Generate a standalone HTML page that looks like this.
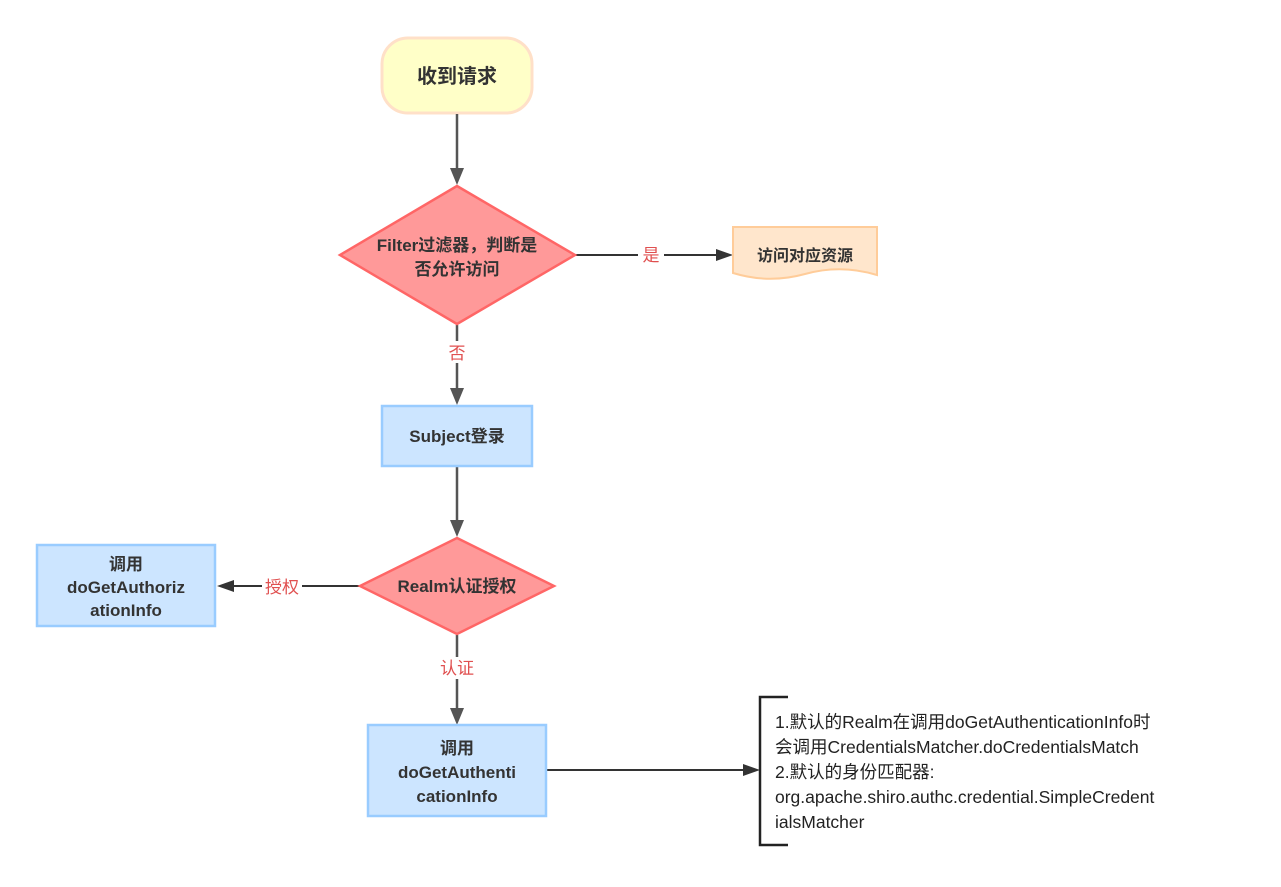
<!DOCTYPE html>
<html><head><meta charset="utf-8"><style>
body{margin:0;background:#fff}
svg text{font-family:"Liberation Sans","Noto Sans CJK SC",sans-serif}
.b{font-weight:bold;fill:#333;font-size:17px}
.l{fill:#e05050;font-size:17px}
.n{fill:#222;font-size:17.5px}
</style></head><body>
<svg width="1281" height="882" viewBox="0 0 1281 882" xmlns="http://www.w3.org/2000/svg">
<defs>
<marker id="a" markerWidth="10" markerHeight="10" refX="9" refY="5" orient="auto" markerUnits="userSpaceOnUse"><path d="M0,0 L14,5 L0,10 z" fill="#333"/></marker>
<marker id="g" viewBox="0 0 14 18" markerWidth="14" markerHeight="18" refX="7" refY="16" orient="0" markerUnits="userSpaceOnUse"><path d="M0,0 L14,0 L7,18 z" fill="#555"/></marker>
</defs>
<!-- start -->
<rect x="382" y="38" width="150" height="75" rx="26" fill="#ffffc8" stroke="#ffe0c8" stroke-width="3"/>
<text x="457" y="83" text-anchor="middle" class="b" font-size="20" style="font-size:20px">收到请求</text>
<!-- connectors -->
<g stroke="#555" stroke-width="2.5" fill="none">
<path d="M457 114 V168"/><path d="M457 325 V388"/><path d="M457 466 V520"/><path d="M457 635 V708"/>
</g>
<path d="M450 168 L464 168 L457 185 z" fill="#555"/>
<path d="M450 388 L464 388 L457 405 z" fill="#555"/>
<path d="M450 520 L464 520 L457 537 z" fill="#555"/>
<path d="M450 708 L464 708 L457 725 z" fill="#555"/>
<g stroke="#333" stroke-width="2" fill="none">
<path d="M575 255 H718"/><path d="M360 586 H232"/><path d="M546 770 H745"/>
</g>
<path d="M716 249 L733 255 L716 261 z" fill="#333"/>
<path d="M234 580 L217 586 L234 592 z" fill="#333"/>
<path d="M743 764 L760 770 L743 776 z" fill="#333"/>
<!-- diamond 1 -->
<path d="M457 186 L575 255 L457 324 L340 255 z" fill="#ff9999" stroke="#ff6666" stroke-width="2.5"/>
<text x="457" y="251" text-anchor="middle" class="b">Filter过滤器，判断是</text>
<text x="457" y="275" text-anchor="middle" class="b">否允许访问</text>
<rect x="638" y="243" width="26" height="22" fill="#fff"/>
<text x="651" y="261" text-anchor="middle" class="l">是</text>
<!-- doc -->
<path d="M733 227 H877 V275 Q841 264 805 274 Q769 284 733 273 z" fill="#ffe6cc" stroke="#ffcc99" stroke-width="2"/>
<text x="805" y="261" text-anchor="middle" class="b" style="font-size:16px">访问对应资源</text>
<rect x="444" y="341" width="26" height="22" fill="#fff"/>
<text x="457" y="359" text-anchor="middle" class="l">否</text>
<!-- subject -->
<rect x="382" y="406" width="150" height="60" fill="#cce5ff" stroke="#99ccff" stroke-width="2.5"/>
<text x="457" y="442" text-anchor="middle" class="b">Subject登录</text>
<!-- diamond 2 -->
<path d="M457 538 L554 586 L457 634 L360 586 z" fill="#ff9999" stroke="#ff6666" stroke-width="2.5"/>
<text x="457" y="592" text-anchor="middle" class="b">Realm认证授权</text>
<rect x="262" y="576" width="40" height="22" fill="#fff"/>
<text x="282" y="593" text-anchor="middle" class="l">授权</text>
<rect x="37" y="545" width="178" height="81" fill="#cce5ff" stroke="#99ccff" stroke-width="2.5"/>
<text x="126" y="570" text-anchor="middle" class="b">调用</text>
<text x="126" y="593" text-anchor="middle" class="b">doGetAuthoriz</text>
<text x="126" y="616" text-anchor="middle" class="b">ationInfo</text>
<rect x="437" y="657" width="40" height="22" fill="#fff"/>
<text x="457" y="674" text-anchor="middle" class="l">认证</text>
<rect x="368" y="725" width="178" height="91" fill="#cce5ff" stroke="#99ccff" stroke-width="2.5"/>
<text x="457" y="754" text-anchor="middle" class="b">调用</text>
<text x="457" y="778" text-anchor="middle" class="b">doGetAuthenti</text>
<text x="457" y="802" text-anchor="middle" class="b">cationInfo</text>
<!-- bracket -->
<path d="M788 697 H760 V845 H788" fill="none" stroke="#222" stroke-width="2.5"/>
<text x="775" y="728" class="n">1.默认的Realm在调用doGetAuthenticationInfo时</text>
<text x="775" y="753" class="n">会调用CredentialsMatcher.doCredentialsMatch</text>
<text x="775" y="778" class="n">2.默认的身份匹配器:</text>
<text x="775" y="803" class="n">org.apache.shiro.authc.credential.SimpleCredent</text>
<text x="775" y="828" class="n">ialsMatcher</text>
</svg>
</body></html>
